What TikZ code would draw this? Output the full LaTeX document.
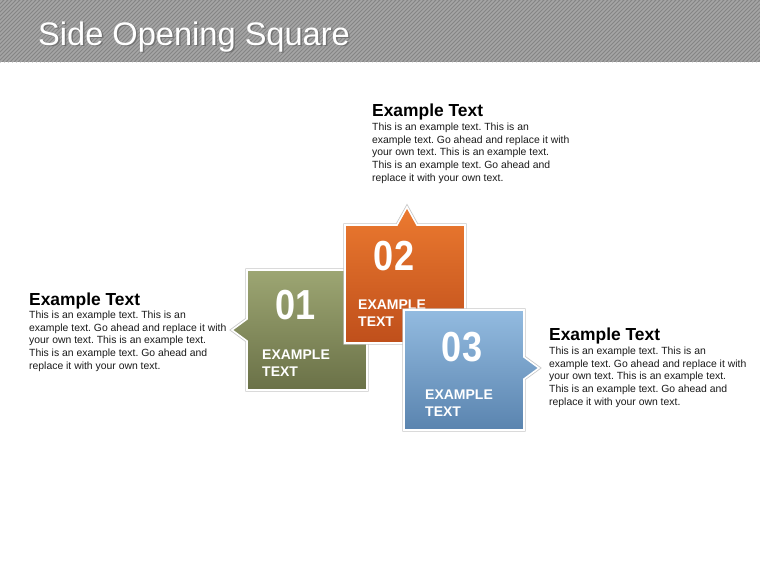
\documentclass[tikz,border=0pt]{standalone}
\usepackage{fontspec}
\setmainfont{Liberation Sans}
\frenchspacing
\definecolor{hdrbase}{HTML}{858585}
\definecolor{hdrstripe}{HTML}{A5A5A5}
\definecolor{gtop}{HTML}{9DA673}
\definecolor{gbot}{HTML}{6A7147}
\definecolor{otop}{HTML}{EC7A30}
\definecolor{obot}{HTML}{BF4F1B}
\definecolor{btop}{HTML}{93BBE0}
\definecolor{bbot}{HTML}{5A84AF}
\definecolor{bodytxt}{HTML}{1A1A1A}
\tikzset{
  stripe/.style={draw=hdrstripe, line width=1.6pt},
  outerline/.style={draw=black!22, line width=3.2pt, line join=miter},
  innerline/.style={draw=white, line width=1.6pt, line join=miter},
  numtxt/.style={text=white, font=\fontsize{42}{42}\bfseries\selectfont, inner sep=0pt, xscale=0.86, anchor=center},
  extxt/.style={text=white, font=\fontsize{14}{16.5}\bfseries\selectfont, inner sep=0pt, align=left, anchor=north west},
  headtxt/.style={text=black, font=\fontsize{17.4}{18}\bfseries\selectfont, inner sep=0pt, anchor=base west},
  bodyblock/.style={text=bodytxt, font=\fontsize{10.4}{12.6}\selectfont, inner sep=0pt, align=left, anchor=north west}
}
\begin{document}
\begin{tikzpicture}[x=1pt,y=-1pt]
\useasboundingbox (0,0) rectangle (760,570);
\fill[white] (0,0) rectangle (760,570);
% header
\begin{scope}
  \clip (0,0) rectangle (760,62);
  \fill[hdrbase] (0,0) rectangle (760,62);
  \foreach \i in {-68,-64,...,764} { \draw[stripe] (\i,62) -- (\i+62,0); }
\end{scope}
\node[text=black!55, font=\fontsize{32.6}{33}\selectfont, inner sep=0pt, anchor=base west] (titleshadow) at (39.5,46.5) {Side Opening Square};
\node[text=white, font=\fontsize{32.6}{33}\selectfont, inner sep=0pt, anchor=base west] (title) at (38,45) {Side Opening Square};

% green box 01
\path[outerline] (247,270) -- (367,270) -- (367,390) -- (247,390) -- (247,341) -- (232,330) -- (247,319) -- cycle;
\shade[top color=gtop, bottom color=gbot] (247,270) -- (367,270) -- (367,390) -- (247,390) -- (247,341) -- (232,330) -- (247,319) -- cycle;
\path[innerline] (247,270) -- (367,270) -- (367,390) -- (247,390) -- (247,341) -- (232,330) -- (247,319) -- cycle;
\node[numtxt] (n01) at (296,305) {01};
\node[extxt] (e01) at (262,350) {EXAMPLE\\TEXT};

% orange box 02
\path[outerline] (345,225) -- (397,225) -- (407,207) -- (417,225) -- (465,225) -- (465,343) -- (345,343) -- cycle;
\shade[top color=otop, bottom color=obot] (345,225) -- (397,225) -- (407,207) -- (417,225) -- (465,225) -- (465,343) -- (345,343) -- cycle;
\path[innerline] (345,225) -- (397,225) -- (407,207) -- (417,225) -- (465,225) -- (465,343) -- (345,343) -- cycle;
\node[numtxt] (n02) at (394,256) {02};
\node[extxt] (e02) at (358,300) {EXAMPLE\\TEXT};

% blue box 03
\path[outerline] (404,310) -- (524,310) -- (524,357) -- (539,368) -- (524,379) -- (524,430) -- (404,430) -- cycle;
\shade[top color=btop, bottom color=bbot] (404,310) -- (524,310) -- (524,357) -- (539,368) -- (524,379) -- (524,430) -- (404,430) -- cycle;
\path[innerline] (404,310) -- (524,310) -- (524,357) -- (539,368) -- (524,379) -- (524,430) -- (404,430) -- cycle;
\node[numtxt] (n03) at (462,347) {03};
\node[extxt] (e03) at (425,390) {EXAMPLE\\TEXT};

% text blocks
\node[headtxt] (h2) at (372,116) {Example Text};
\node[bodyblock] (b2) at (372,123) {This is an example text. This is an\\example text. Go ahead and replace it with\\your own text. This is an example text.\\This is an example text. Go ahead and\\replace it with your own text.};

\node[headtxt] (h1) at (29,305) {Example Text};
\node[bodyblock] (b1) at (29,311) {This is an example text. This is an\\example text. Go ahead and replace it with\\your own text. This is an example text.\\This is an example text. Go ahead and\\replace it with your own text.};

\node[headtxt] (h3) at (549,340) {Example Text};
\node[bodyblock] (b3) at (549,347) {This is an example text. This is an\\example text. Go ahead and replace it with\\your own text. This is an example text.\\This is an example text. Go ahead and\\replace it with your own text.};
\end{tikzpicture}
\end{document}
